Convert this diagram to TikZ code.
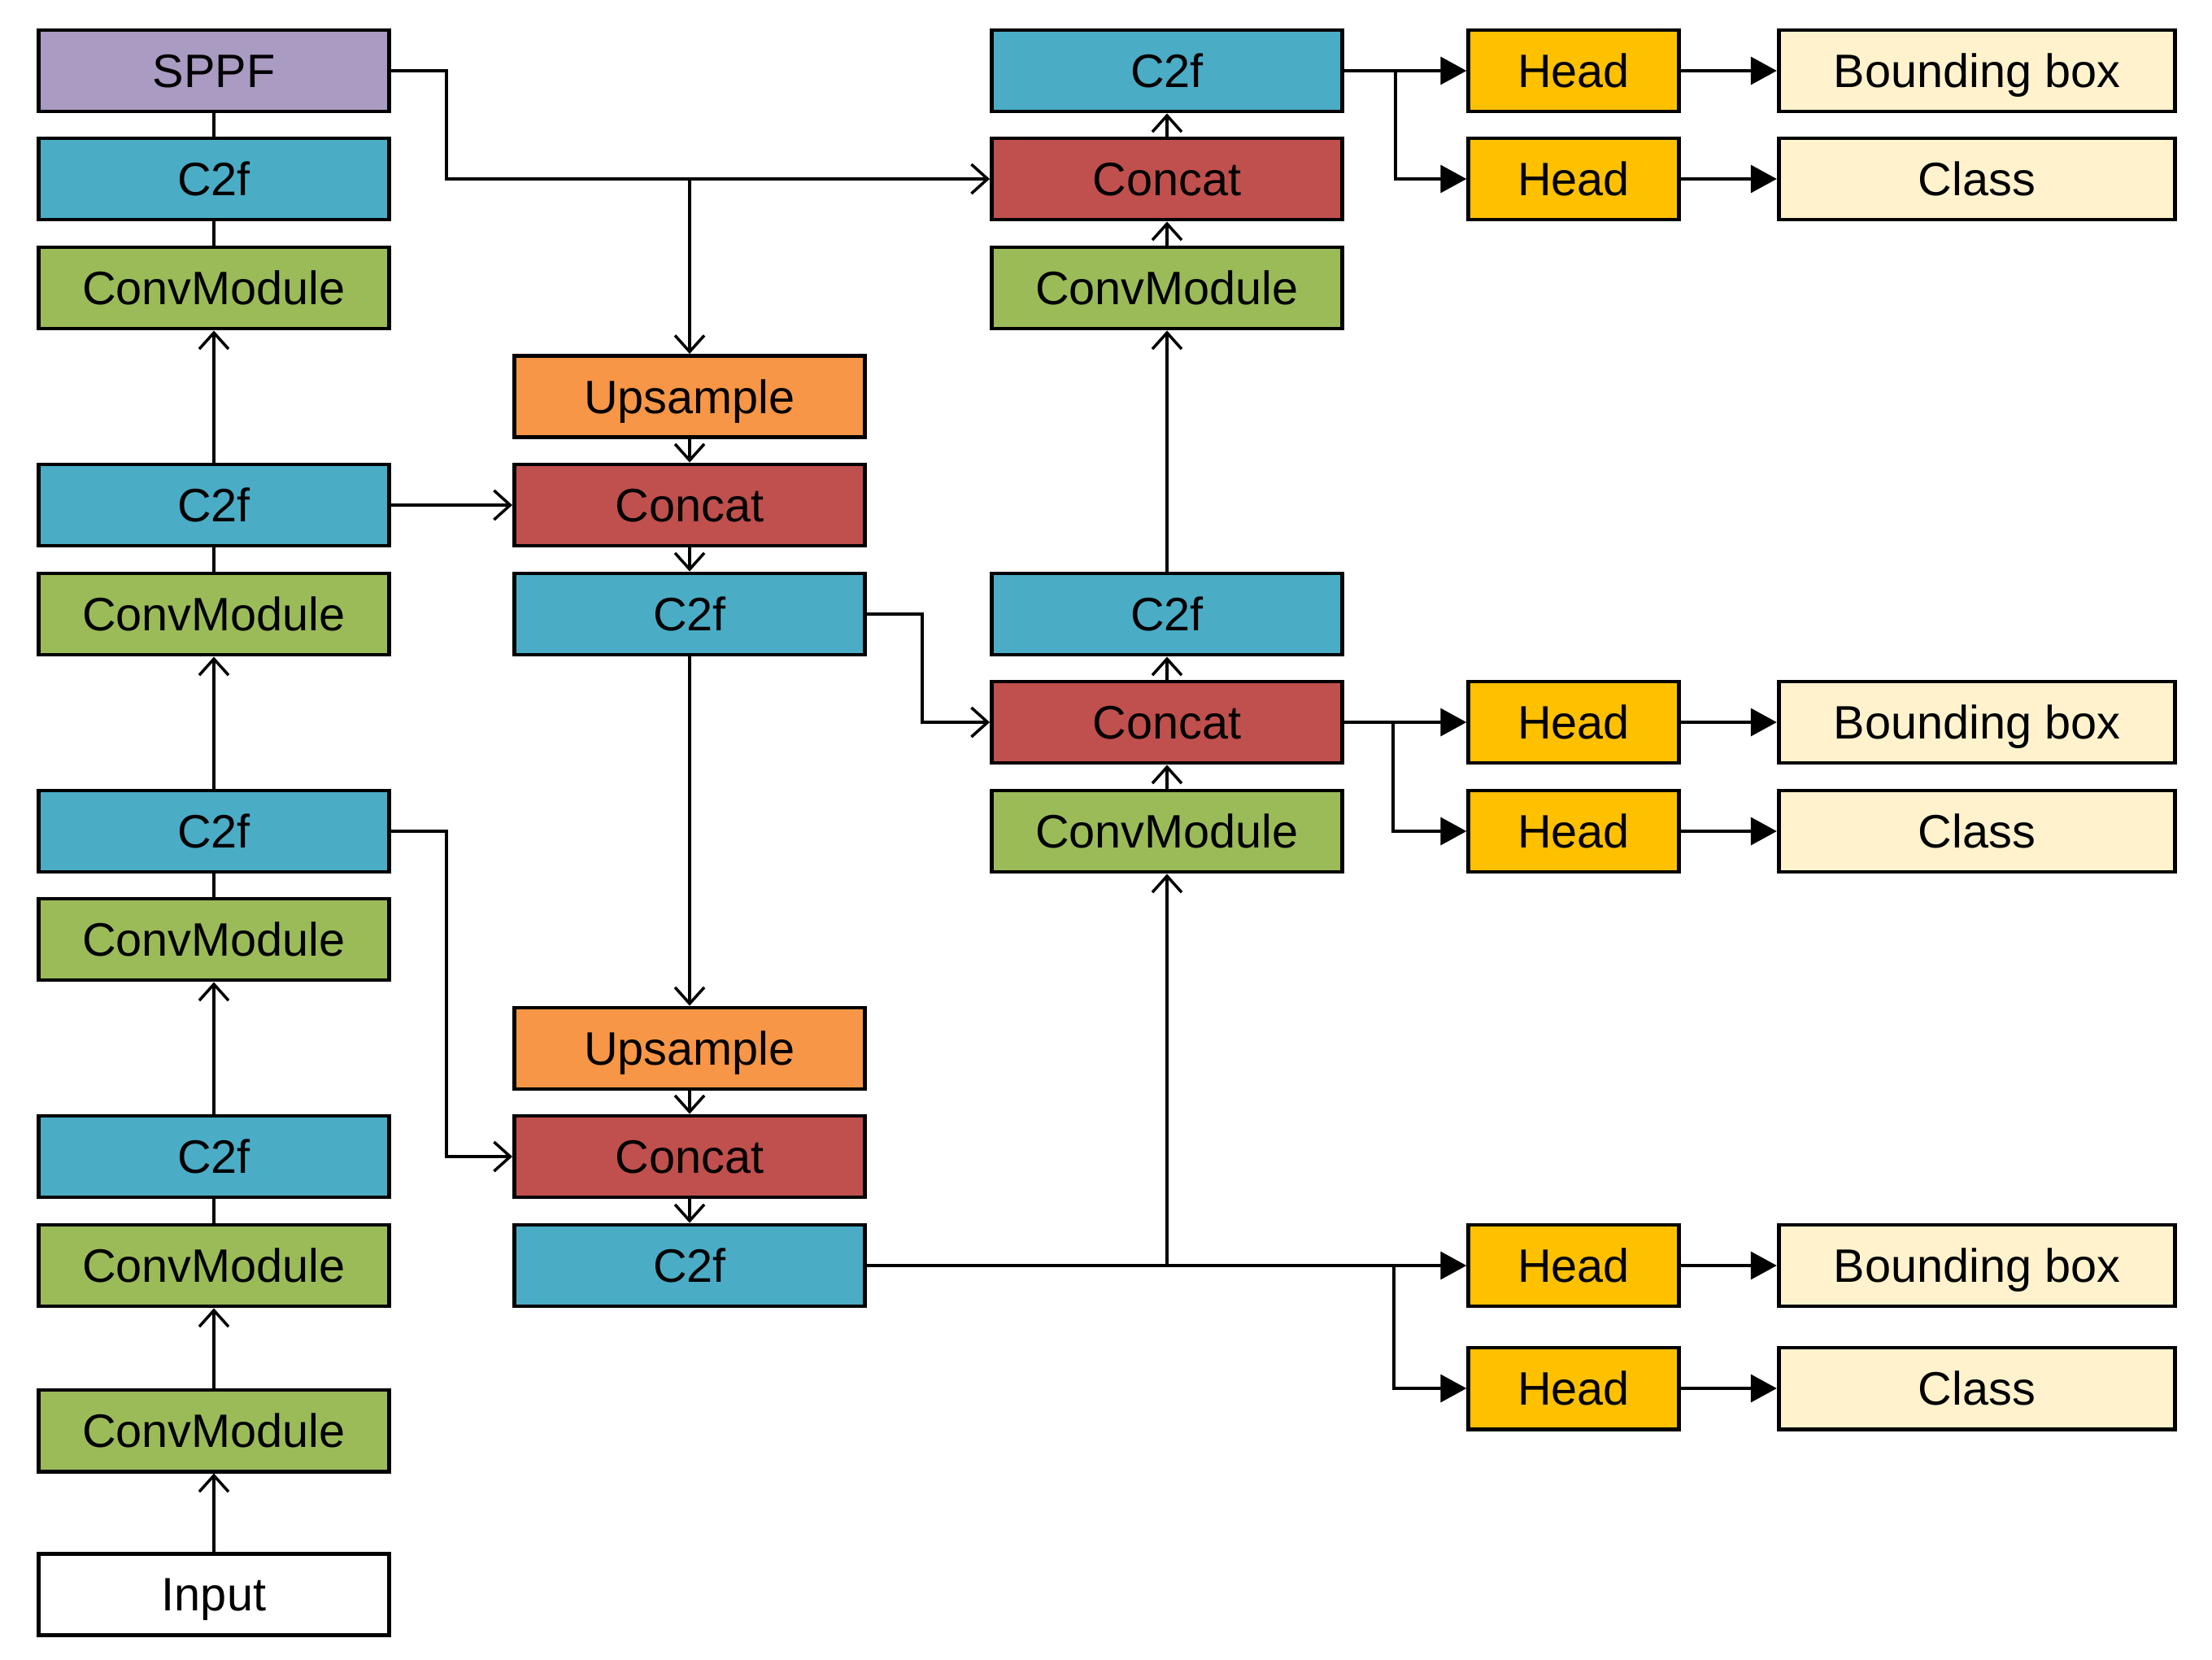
\documentclass[tikz,border=0pt]{standalone}
\usepackage{fontspec}
\setmainfont{Liberation Sans}
\usepackage{tikz}
\usetikzlibrary{arrows.meta}

\definecolor{sppfcol}{HTML}{A99BC1}
\definecolor{c2fcol}{HTML}{4BACC6}
\definecolor{convcol}{HTML}{9BBB59}
\definecolor{catcol}{HTML}{C0504D}
\definecolor{upcol}{HTML}{F79646}
\definecolor{headcol}{HTML}{FFC000}
\definecolor{rescol}{HTML}{FFF2CC}

\begin{document}
\begin{tikzpicture}[
    blk/.style={draw, line width=1.4pt, minimum width=4.31cm, minimum height=1.0cm, inner sep=0pt,
        text height=11.7pt, text depth=0pt, font=\fontsize{16.4}{20}\selectfont},
    sppf/.style={blk, fill=sppfcol},
    c2f/.style={blk, fill=c2fcol},
    conv/.style={blk, fill=convcol},
    cat/.style={blk, fill=catcol},
    ups/.style={blk, fill=upcol},
    inp/.style={blk, fill=white},
    head/.style={blk, fill=headcol, minimum width=2.585cm},
    res/.style={blk, fill=rescol, minimum width=4.875cm},
    plain/.style={line width=1pt},
    link/.style={line width=1pt, -{Straight Barb[length=0.2cm,width=0.36cm,line width=1pt]}},
    headlink/.style={line width=1pt, -{Triangle[length=0.32cm,width=0.34cm]}}
]
    \useasboundingbox (0,0) rectangle (27.2,-20.4);

    % backbone
    \node[sppf] (sppf) at (2.63,-0.87) {SPPF};
    \node[c2f] (bc4) at (2.63,-2.20) {C2f};
    \node[conv] (bv5) at (2.63,-3.54) {ConvModule};
    \node[c2f] (bc3) at (2.63,-6.21) {C2f};
    \node[conv] (bv4) at (2.63,-7.55) {ConvModule};
    \node[c2f] (bc2) at (2.63,-10.22) {C2f};
    \node[conv] (bv3) at (2.63,-11.55) {ConvModule};
    \node[c2f] (bc1) at (2.63,-14.22) {C2f};
    \node[conv] (bv2) at (2.63,-15.56) {ConvModule};
    \node[conv] (bv1) at (2.63,-17.59) {ConvModule};
    \node[inp] (input) at (2.63,-19.60) {Input};

    % neck, top-down
    \node[ups] (up1) at (8.48,-4.875) {Upsample};
    \node[cat] (cat1) at (8.48,-6.21) {Concat};
    \node[c2f] (nc1) at (8.48,-7.55) {C2f};
    \node[ups] (up2) at (8.48,-12.89) {Upsample};
    \node[cat] (cat2) at (8.48,-14.22) {Concat};
    \node[c2f] (nc2) at (8.48,-15.56) {C2f};

    % neck, bottom-up
    \node[c2f] (nc4) at (14.35,-0.87) {C2f};
    \node[cat] (cat4) at (14.35,-2.20) {Concat};
    \node[conv] (nv2) at (14.35,-3.54) {ConvModule};
    \node[c2f] (nc3) at (14.35,-7.55) {C2f};
    \node[cat] (cat3) at (14.35,-8.88) {Concat};
    \node[conv] (nv1) at (14.35,-10.22) {ConvModule};

    % heads and outputs
    \foreach \i/\y/\t in {1/-0.87/Bounding box, 2/-2.20/Class, 3/-8.88/Bounding box,
                          4/-10.22/Class, 5/-15.56/Bounding box, 6/-17.07/Class} {
        \node[head] (h\i) at (19.35,\y) {Head};
        \node[res] (r\i) at (24.31,\y) {\t};
        \draw[headlink] (h\i) -- (r\i);
    }

    % backbone links
    \draw[link] (input) -- (bv1);
    \draw[link] (bv1) -- (bv2);
    \draw[plain] (bv2) -- (bc1);
    \draw[link] (bc1) -- (bv3);
    \draw[plain] (bv3) -- (bc2);
    \draw[link] (bc2) -- (bv4);
    \draw[plain] (bv4) -- (bc3);
    \draw[link] (bc3) -- (bv5);
    \draw[plain] (bv5) -- (bc4);
    \draw[plain] (bc4) -- (sppf);

    % neck links
    \draw[link] (sppf.east) -- ++(0.68,0) |- (cat4.west);
    \coordinate (j1) at (up1.north |- cat4.west);
    \draw[link] (j1) -- (up1);
    \draw[link] (up1) -- (cat1);
    \draw[link] (bc3) -- (cat1);
    \draw[link] (cat1) -- (nc1);
    \draw[link] (nc1.east) -- ++(0.68,0) |- (cat3.west);
    \draw[link] (nc1) -- (up2);
    \draw[link] (bc2.east) -- ++(0.68,0) |- (cat2.west);
    \draw[link] (up2) -- (cat2);
    \draw[link] (cat2) -- (nc2);
    \coordinate (j2) at (nv1.south |- nc2.east);
    \draw[link] (j2) -- (nv1);
    \draw[link] (nv1) -- (cat3);
    \draw[link] (cat3) -- (nc3);
    \draw[link] (nc3) -- (nv2);
    \draw[link] (nv2) -- (cat4);
    \draw[link] (cat4) -- (nc4);

    % to heads
    \draw[headlink] (nc4) -- (h1);
    \draw[headlink] (nc4.east) -- ++(0.63,0) |- (h2);
    \draw[headlink] (cat3) -- (h3);
    \draw[headlink] (cat3.east) -- ++(0.6,0) |- (h4);
    \draw[headlink] (nc2) -- (h5);
    \coordinate (j3) at (17.14,-15.56);
    \draw[headlink] (j3) |- (h6);
\end{tikzpicture}
\end{document}
